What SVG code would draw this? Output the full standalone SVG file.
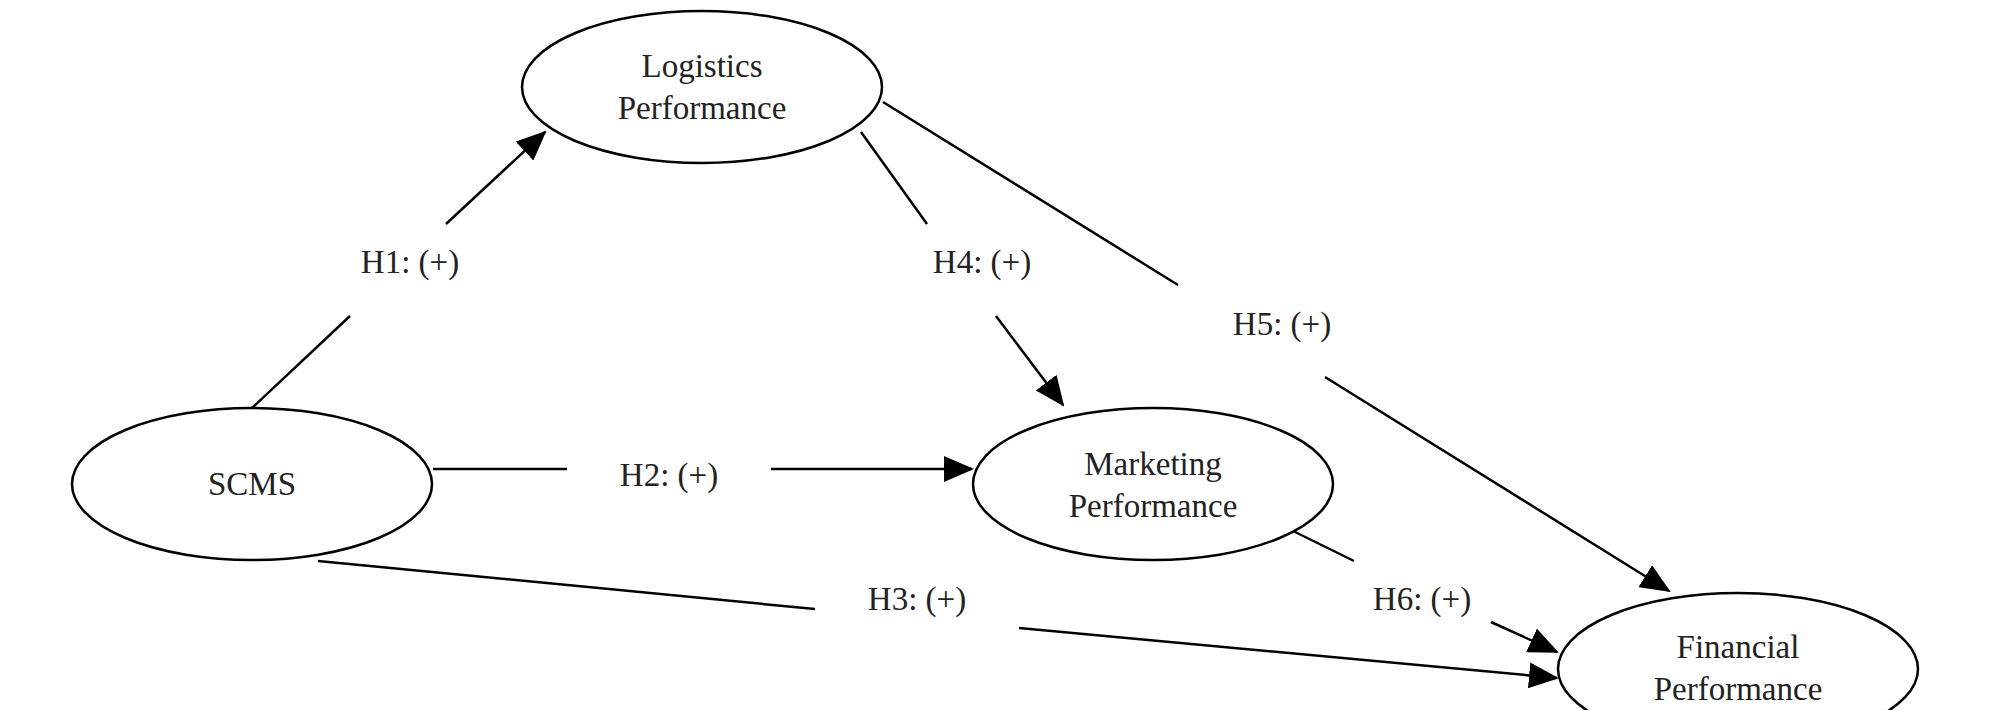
<svg xmlns="http://www.w3.org/2000/svg" width="1998" height="710" viewBox="0 0 1998 710">
<style>
.n{fill:#fff;stroke:#000;stroke-width:2.5}
.t{font-family:"Liberation Serif",serif;font-size:33px;fill:#222;text-anchor:middle;dominant-baseline:central}
.c{stroke:#000;stroke-width:2.5;fill:none}
</style>
<defs><marker id="a" markerUnits="userSpaceOnUse" markerWidth="30" markerHeight="26" refX="28" refY="13" orient="auto"><path d="M0,0L30,13L0,26z" fill="#000"/></marker></defs>
<rect width="1998" height="710" fill="#fff"/>
<g id="connectors">
<line class="c" x1="252" y1="408" x2="350" y2="316"/><line class="c" x1="446" y1="224" x2="545" y2="132" marker-end="url(#a)"/>
<line class="c" x1="861" y1="132" x2="927" y2="224"/><line class="c" x1="996" y1="316" x2="1063" y2="405" marker-end="url(#a)"/>
<line class="c" x1="883" y1="102" x2="1178" y2="285"/><line class="c" x1="1325" y1="377" x2="1669" y2="591" marker-end="url(#a)"/>
<line class="c" x1="433" y1="469" x2="567" y2="469"/><line class="c" x1="771" y1="469" x2="972" y2="469" marker-end="url(#a)"/>
<line class="c" x1="318" y1="561" x2="815" y2="609"/><line class="c" x1="1019" y1="628" x2="1557" y2="678" marker-end="url(#a)"/>
<line class="c" x1="1289" y1="529" x2="1354" y2="561"/><line class="c" x1="1491" y1="622" x2="1557" y2="652" marker-end="url(#a)"/>
<text class="t" x="410" y="262">H1: (+)</text>
<text class="t" x="982" y="262">H4: (+)</text>
<text class="t" x="1282" y="324">H5: (+)</text>
<text class="t" x="669" y="475">H2: (+)</text>
<text class="t" x="917" y="599">H3: (+)</text>
<text class="t" x="1422" y="599">H6: (+)</text>
</g>
<g id="logistics"><ellipse class="n" cx="702" cy="87" rx="180" ry="76"/><text class="t" x="702" y="66">Logistics</text><text class="t" x="702" y="108">Performance</text></g>
<g id="scms"><ellipse class="n" cx="252" cy="484" rx="180" ry="76"/><text class="t" x="252" y="484">SCMS</text></g>
<g id="marketing"><ellipse class="n" cx="1153" cy="484" rx="180" ry="76"/><text class="t" x="1153" y="464">Marketing</text><text class="t" x="1153" y="506">Performance</text></g>
<g id="financial"><ellipse class="n" cx="1738" cy="669" rx="180" ry="76"/><text class="t" x="1738" y="647">Financial</text><text class="t" x="1738" y="689">Performance</text></g>
</svg>
